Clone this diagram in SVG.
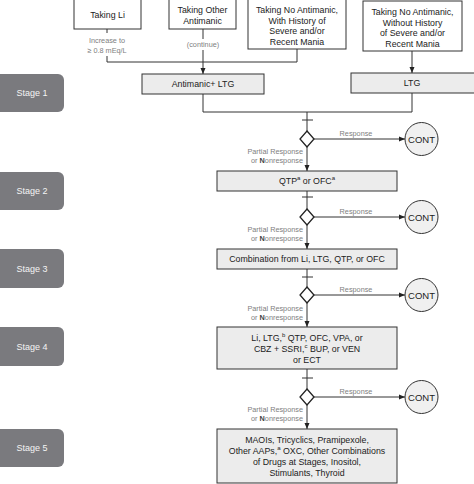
<svg xmlns="http://www.w3.org/2000/svg" width="474" height="484" viewBox="0 0 474 484">
<style>
text{font-family:"Liberation Sans",Arial,sans-serif;text-anchor:middle;dominant-baseline:central}
.box{fill:#ececec;stroke:#333;stroke-width:1}
.top{fill:#fff;stroke:#333;stroke-width:1}
.stage{fill:#7a7a7e}
.st{fill:#f4f4f4;font-size:9px}
.t{fill:#222;font-size:8.8px}
.s{fill:#808080;font-size:7.3px}
.r{text-anchor:end}
.ln{fill:none;stroke:#333;stroke-width:1}
.dia{fill:#fff;stroke:#222;stroke-width:1.3}
.cont{fill:#f0f0f0;stroke:#333;stroke-width:1}
.b{font-weight:bold;fill:#444}
</style>
<defs>
<marker id="ah" viewBox="0 0 6 6" refX="6" refY="3" markerWidth="6" markerHeight="6" markerUnits="userSpaceOnUse" orient="auto">
<path d="M0,0.5 L6,3 L0,5.5 Z" fill="#222"/>
</marker>
</defs>

<g id="stage1"><rect class="stage" x="-6" y="74" width="70" height="38" rx="6"/><text class="st" x="32" y="93">Stage 1</text></g>
<g id="stage2"><rect class="stage" x="-6" y="172" width="70" height="38" rx="6"/><text class="st" x="32" y="191">Stage 2</text></g>
<g id="stage3"><rect class="stage" x="-6" y="249" width="70" height="39" rx="6"/><text class="st" x="32" y="268.5">Stage 3</text></g>
<g id="stage4"><rect class="stage" x="-6" y="327" width="70" height="39" rx="6"/><text class="st" x="32" y="346.5">Stage 4</text></g>
<g id="stage5"><rect class="stage" x="-6" y="429" width="70" height="38" rx="6"/><text class="st" x="32" y="448">Stage 5</text></g>

<g id="connectors">
<path class="ln" d="M107,29 V33 M107,56 V62 H297 V49"/>
<path class="ln" d="M203,29 V39 M203,50 V74" marker-end="url(#ah)"/>
<path class="ln" d="M412,51 V73" marker-end="url(#ah)"/>
<path class="ln" d="M203,94 V112 H412 V93"/>
<path class="ln" d="M307,112 V131 M302,120 H313"/>
<path class="ln" d="M307,147 V171" marker-end="url(#ah)"/>
<path class="ln" d="M314,139 H405" marker-end="url(#ah)"/>
<path class="ln" d="M307,191 V209 M302,197 H313"/>
<path class="ln" d="M307,225 V249" marker-end="url(#ah)"/>
<path class="ln" d="M314,217 H405" marker-end="url(#ah)"/>
<path class="ln" d="M307,269 V287 M302,277 H313"/>
<path class="ln" d="M307,303 V327" marker-end="url(#ah)"/>
<path class="ln" d="M314,295 H405" marker-end="url(#ah)"/>
<path class="ln" d="M307,369 V389 M302,378 H313"/>
<path class="ln" d="M307,405 V429" marker-end="url(#ah)"/>
<path class="ln" d="M314,397 H405" marker-end="url(#ah)"/>
<text class="s" x="107" y="40">Increase to</text>
<text class="s" x="107" y="50">≥ 0.8 mEq/L</text>
<text class="s" x="203" y="44">(continue)</text>
<text class="s" x="356" y="133.5">Response</text>
<text class="s" x="356" y="211.5">Response</text>
<text class="s" x="356" y="289.5">Response</text>
<text class="s" x="356" y="391.5">Response</text>
<text class="s r" x="303" y="151">Partial Response</text>
<text class="s r" x="303" y="160">or <tspan class="b">N</tspan>onresponse</text>
<text class="s r" x="303" y="229">Partial Response</text>
<text class="s r" x="303" y="238">or <tspan class="b">N</tspan>onresponse</text>
<text class="s r" x="303" y="308">Partial Response</text>
<text class="s r" x="303" y="317">or <tspan class="b">N</tspan>onresponse</text>
<text class="s r" x="303" y="409">Partial Response</text>
<text class="s r" x="303" y="418">or <tspan class="b">N</tspan>onresponse</text>
</g>

<g id="li"><rect class="top" x="74" y="-5" width="67" height="34"/><text class="t" x="107.5" y="15">Taking Li</text></g>
<g id="other"><rect class="top" x="169" y="-5" width="67" height="34"/><text class="t" x="202.5" y="10">Taking Other</text><text class="t" x="202.5" y="20.5">Antimanic</text></g>
<g id="withhist"><rect class="top" x="248" y="-5" width="98" height="54"/>
<text class="t" x="297" y="10">Taking No Antimanic,</text><text class="t" x="297" y="20.5">With History of</text><text class="t" x="297" y="31">Severe and/or</text><text class="t" x="297" y="41.5">Recent Mania</text></g>
<g id="withouthist"><rect class="top" x="363" y="1" width="99" height="50"/>
<text class="t" x="412.5" y="12">Taking No Antimanic,</text><text class="t" x="412.5" y="22.5">Without History</text><text class="t" x="412.5" y="33">of Severe and/or</text><text class="t" x="412.5" y="43.5">Recent Mania</text></g>

<g id="antimanic-ltg"><rect class="box" x="142" y="74" width="122" height="20"/><text class="t" x="203" y="84">Antimanic+ LTG</text></g>
<g id="ltg"><rect class="box" x="351" y="73" width="124" height="20"/><text class="t" x="412" y="83">LTG</text></g>

<g id="d1"><path class="dia" d="M307,131 L314,139 L307,147 L300,139 Z"/></g>
<g id="d2"><path class="dia" d="M307,209 L314,217 L307,225 L300,217 Z"/></g>
<g id="d3"><path class="dia" d="M307,287 L314,295 L307,303 L300,295 Z"/></g>
<g id="d4"><path class="dia" d="M307,389 L314,397 L307,405 L300,397 Z"/></g>

<g id="cont1"><circle class="cont" cx="421.5" cy="139" r="16.5"/><text class="t" x="421.5" y="139" style="font-size:9.5px">CONT</text></g>
<g id="cont2"><circle class="cont" cx="421.5" cy="217" r="16.5"/><text class="t" x="421.5" y="217" style="font-size:9.5px">CONT</text></g>
<g id="cont3"><circle class="cont" cx="421.5" cy="295" r="16.5"/><text class="t" x="421.5" y="295" style="font-size:9.5px">CONT</text></g>
<g id="cont4"><circle class="cont" cx="421.5" cy="397" r="16.5"/><text class="t" x="421.5" y="397" style="font-size:9.5px">CONT</text></g>

<g id="qtp"><rect class="box" x="217" y="171" width="180" height="20"/><text class="t" x="307" y="181">QTP<tspan dy="-3" font-size="6">a</tspan><tspan dy="3"> or OFC</tspan><tspan dy="-3" font-size="6">a</tspan></text></g>
<g id="combination"><rect class="box" x="217" y="249" width="180" height="20"/><text class="t" x="307" y="259">Combination from Li, LTG, QTP, or OFC</text></g>
<g id="stage4box"><rect class="box" x="217" y="327" width="180" height="42"/>
<text class="t" x="307" y="338">Li, LTG,<tspan dy="-3" font-size="6">b</tspan><tspan dy="3"> QTP, OFC, VPA, or</tspan></text>
<text class="t" x="307" y="349">CBZ + SSRI,<tspan dy="-3" font-size="6">c</tspan><tspan dy="3"> BUP, or VEN</tspan></text>
<text class="t" x="307" y="360">or ECT</text></g>
<g id="stage5box"><rect class="box" x="217" y="429" width="180" height="54"/>
<text class="t" x="307" y="440">MAOIs, Tricyclics, Pramipexole,</text>
<text class="t" x="307" y="451">Other AAPs,<tspan dy="-3" font-size="6">a</tspan><tspan dy="3"> OXC, Other Combinations</tspan></text>
<text class="t" x="307" y="462">of Drugs at Stages, Inositol,</text>
<text class="t" x="307" y="473">Stimulants, Thyroid</text></g>
</svg>
